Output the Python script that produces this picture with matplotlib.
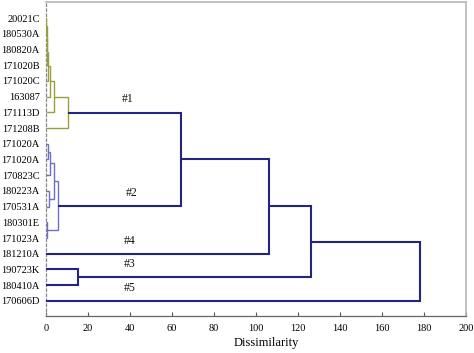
import matplotlib
matplotlib.use("Agg")
import matplotlib.pyplot as plt

leaf_labels = ["20021C", "180530A", "180820A", "171020B", "171020C", "163087",
               "171113D", "171208B", "171020A", "171020A", "170823C", "180223A",
               "170531A", "180301E", "171023A", "181210A", "190723K", "180410A",
               "170606D"]

# merges: (left node, right node, dissimilarity); new nodes numbered from 19
merge_left = [0, 19, 20, 21, 22, 23, 24, 8, 26, 11, 27, 13, 29, 25, 32, 16, 33, 35]
merge_right = [1, 2, 3, 4, 5, 6, 7, 9, 10, 12, 28, 14, 30, 31, 15, 17, 34, 18]
merge_height = [0.2, 0.4, 0.7, 1.0, 1.9, 3.7, 10.5, 1.0, 2.0, 1.3, 4.0, 0.3, 5.7,
                64.3, 106.3, 15.1, 126.0, 178.0]
# cluster id of each merge: 1 = group #1, 2 = group #2, 0 = main tree
merge_group = [1, 1, 1, 1, 1, 1, 1, 2, 2, 2, 2, 2, 2, 0, 0, 0, 0, 0]

group_names = ["#1", "#2", "#4", "#3", "#5"]
group_label_x = [39, 41, 40, 40, 40]
group_label_node = [25, 31, 15, 34, 18]

x_ticks = [0, 20, 40, 60, 80, 100, 120, 140, 160, 180, 200]

colors = {0: "#25257f", 1: "#9a9f3c", 2: "#6e6ec6"}
widths = {0: 1.5, 1: 1.0, 2: 1.0}

fig = plt.figure(figsize=(4.74, 3.53), dpi=100)
ax = fig.add_axes([0.097, 0.105, 0.886, 0.889])

n = len(leaf_labels)
pos = {i: float(i) for i in range(n)}
hgt = {i: 0.0 for i in range(n)}
for k, (a, b, h, g) in enumerate(zip(merge_left, merge_right, merge_height, merge_group)):
    node = n + k
    c = colors[g]
    lw = widths[g]
    ax.plot([hgt[a], h, h, hgt[b]], [pos[a], pos[a], pos[b], pos[b]],
            color=c, lw=lw, solid_joinstyle="miter", solid_capstyle="butt", zorder=3)
    pos[node] = (pos[a] + pos[b]) / 2
    hgt[node] = h

for name, lx, nd in zip(group_names, group_label_x, group_label_node):
    ax.text(lx, pos[nd] - 0.45, name, ha="center", va="bottom",
            family="Liberation Serif", fontsize=8.5, color="#111111")

ax.set_xlim(0, 200)
ax.set_ylim(18.96, -1.02)
ax.set_yticks(range(n))
ax.set_yticklabels(leaf_labels, family="Liberation Serif", fontsize=7.5)
ax.tick_params(axis="y", length=0, pad=4.5)
ax.set_xticks(x_ticks)
ax.set_xticklabels([str(t) for t in x_ticks], family="Liberation Serif", fontsize=7.5)
ax.tick_params(axis="x", direction="in", length=3, width=0.8, color="#555555", pad=6)
ax.set_xlabel("Dissimilarity", family="Liberation Serif", fontsize=9)
ax.xaxis.set_label_coords(0.524, -0.068)

for s in ["top", "right"]:
    ax.spines[s].set_color("#b5b5b5")
    ax.spines[s].set_linewidth(1.2)
ax.spines["left"].set_color("#888888")
ax.spines["left"].set_linestyle((0, (2, 2)))
ax.spines["left"].set_linewidth(0.9)
ax.spines["bottom"].set_color("#666666")
ax.spines["bottom"].set_linewidth(0.9)

fig.savefig("out.png", dpi=100)
